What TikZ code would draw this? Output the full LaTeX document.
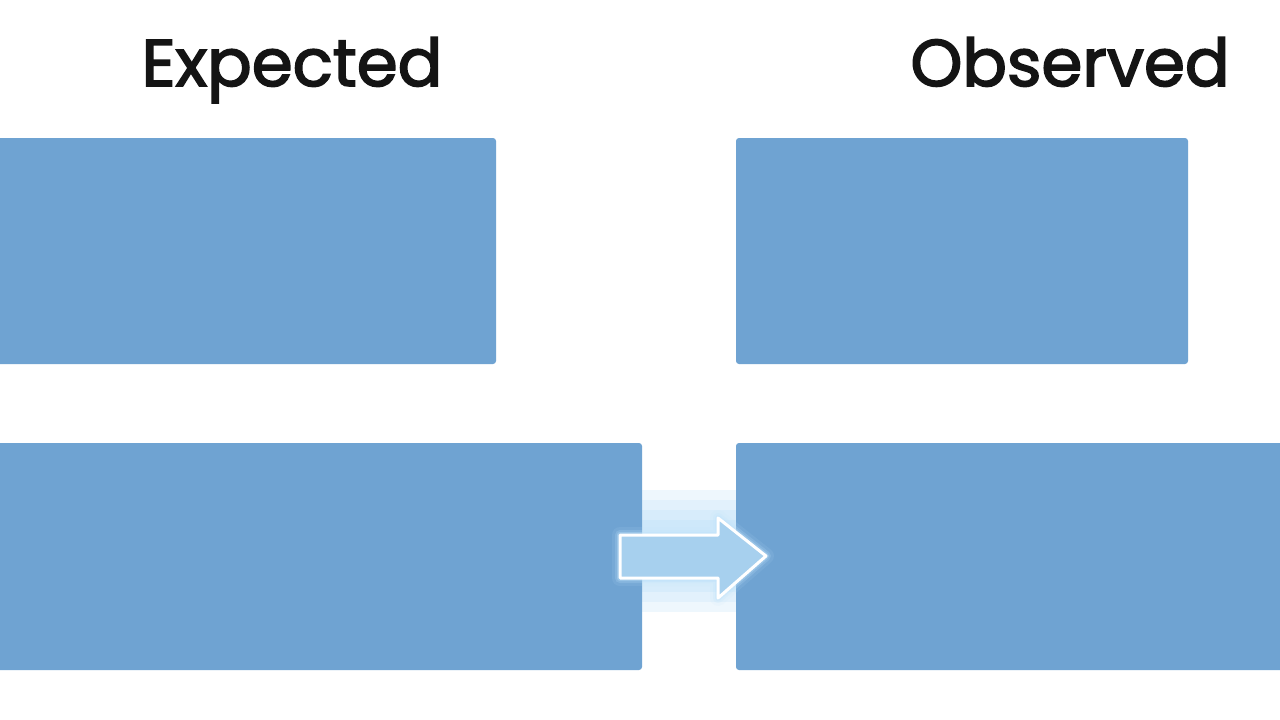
\documentclass[tikz,border=0pt]{standalone}
\usepackage{fontspec}
\setmainfont{Poppins}
\newfontfamily\titlefont{Poppins}[UprightFeatures={FakeBold=2.5}]
\definecolor{boxblue}{HTML}{6FA3D2}
\definecolor{glow}{HTML}{BFE3FA}
\tikzset{panel/.style={fill=boxblue,rounded corners=3pt},
 title/.style={font=\titlefont\fontsize{66}{72}\selectfont,text=black!92,anchor=base}}
\begin{document}
\begin{tikzpicture}[x=1pt,y=-1pt]
\useasboundingbox (0,0) rectangle (1280,720);
\fill[white] (0,0) rectangle (1280,720);
\node[title] (t1) at (292,86) {Expected};
\node[title] (t2) at (1070,86) {Observed};
\fill[panel] (-5,138) rectangle (496,364);
\fill[panel] (736,138) rectangle (1188,364);
\foreach \d/\o in {0/0.25,10/0.25,20/0.3,30/0.35}
 \fill[glow,opacity=\o] (642,490+\d) rectangle (736,612-\d);
\fill[panel] (-5,443) rectangle (642,670);
\fill[panel] (736,443) rectangle (1285,670);
\foreach \w/\o in {16/0.1,10/0.2,6/0.35}
 \draw[glow,line width=\w,opacity=\o,line join=round] (620,535)--(718,535)--(718,518)--(766,556)--(718,598)--(718,578)--(620,578)--cycle;
\draw[white,fill=glow!70!boxblue,line width=3,line join=round] (620,535)--(718,535)--(718,518)--(766,556)--(718,598)--(718,578)--(620,578)--cycle;
\end{tikzpicture}
\end{document}
